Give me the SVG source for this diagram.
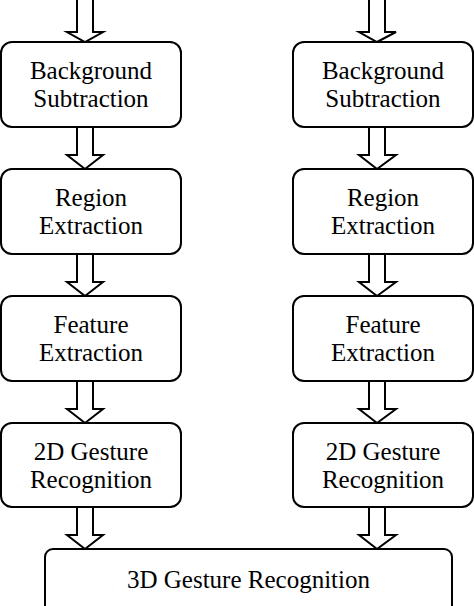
<svg xmlns="http://www.w3.org/2000/svg" width="474" height="606" viewBox="0 0 474 606">
<defs>
<style>
.box{fill:#fff;stroke:#000;stroke-width:2}
.arr{fill:#fff;stroke:#000;stroke-width:2;stroke-linejoin:miter}
.t{font-family:"Liberation Serif","Times New Roman",serif;font-size:25px;fill:#000;text-anchor:middle}
</style>
</defs>
<rect width="474" height="606" fill="#fff"/>
<g id="connectors">
<polygon class="arr" points="77,-2 93,-2 93,32 103,32 85,42 67,32 77,32"/>
<polygon class="arr" points="369,-2 385,-2 385,32 396,32 377,42 359,32 369,32"/>
<polygon class="arr" points="77,127 93,127 93,155 103,155 85,169 67,155 77,155"/>
<polygon class="arr" points="369,127 385,127 385,155 396,155 377,169 359,155 369,155"/>
<polygon class="arr" points="77,254 93,254 93,282 103,282 85,296 67,282 77,282"/>
<polygon class="arr" points="369,254 385,254 385,282 396,282 377,296 359,282 369,282"/>
<polygon class="arr" points="77,381 93,381 93,409 103,409 85,423 67,409 77,409"/>
<polygon class="arr" points="369,381 385,381 385,409 396,409 377,423 359,409 369,409"/>
<polygon class="arr" points="77,507 93,507 93,535 103,535 85,549 67,535 77,535"/>
<polygon class="arr" points="369,507 385,507 385,535 396,535 377,549 359,535 369,535"/>
</g>
<g id="bg-left"><rect class="box" x="1" y="42" width="180" height="85" rx="11"/><text class="t" x="91" y="79">Background</text><text class="t" x="91" y="107">Subtraction</text></g>
<g id="bg-right"><rect class="box" x="293" y="42" width="180" height="85" rx="11"/><text class="t" x="383" y="79">Background</text><text class="t" x="383" y="107">Subtraction</text></g>
<g id="re-left"><rect class="box" x="1" y="169" width="180" height="85" rx="11"/><text class="t" x="91" y="206">Region</text><text class="t" x="91" y="234">Extraction</text></g>
<g id="re-right"><rect class="box" x="293" y="169" width="180" height="85" rx="11"/><text class="t" x="383" y="206">Region</text><text class="t" x="383" y="234">Extraction</text></g>
<g id="fe-left"><rect class="box" x="1" y="296" width="180" height="85" rx="11"/><text class="t" x="91" y="333">Feature</text><text class="t" x="91" y="361">Extraction</text></g>
<g id="fe-right"><rect class="box" x="293" y="296" width="180" height="85" rx="11"/><text class="t" x="383" y="333">Feature</text><text class="t" x="383" y="361">Extraction</text></g>
<g id="gr-left"><rect class="box" x="1" y="423" width="180" height="84" rx="11"/><text class="t" x="91" y="460">2D Gesture</text><text class="t" x="91" y="488">Recognition</text></g>
<g id="gr-right"><rect class="box" x="293" y="423" width="180" height="84" rx="11"/><text class="t" x="383" y="460">2D Gesture</text><text class="t" x="383" y="488">Recognition</text></g>
<g id="gr3d"><rect class="box" x="45" y="549" width="407" height="80" rx="8"/><text class="t" x="248.5" y="588">3D Gesture Recognition</text></g>
</svg>
